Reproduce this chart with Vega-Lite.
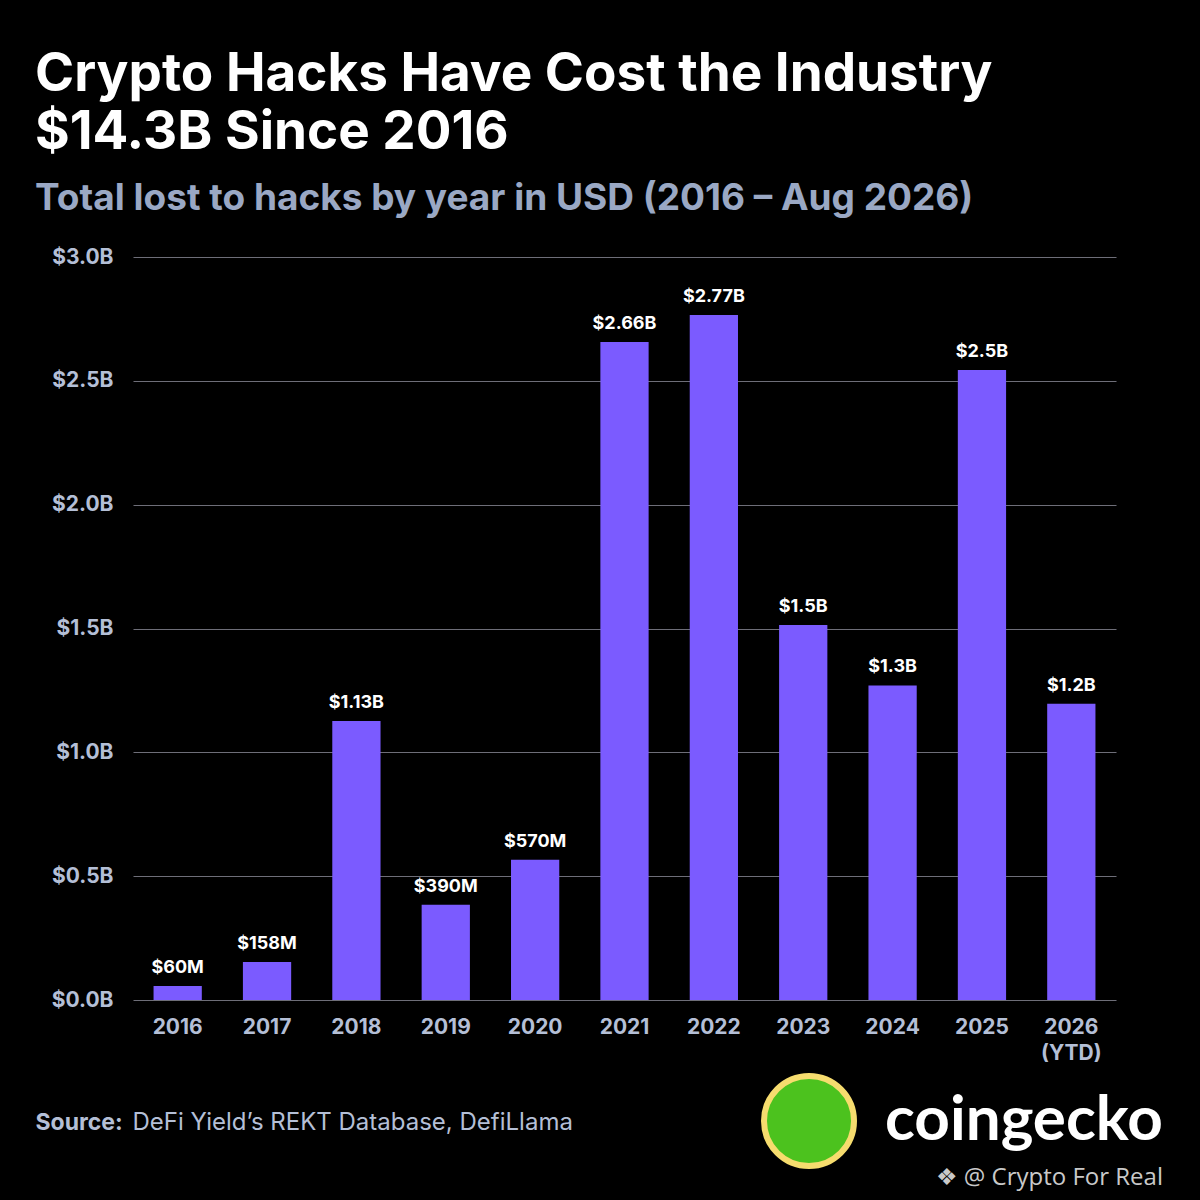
{
  "$schema": "https://vega.github.io/schema/vega-lite/v6.json",
  "description": "Crypto hacks: total lost by year in USD",
  "width": 983,
  "height": 743,
  "autosize": {"type": "none"},
  "padding": {"left": 133, "top": 257, "right": 84, "bottom": 200},
  "background": "#000000",
  "title": {
    "text": ["Crypto Hacks Have Cost the Industry", "$14.3B Since 2016"],
    "subtitle": "Total lost to hacks by year in USD (2016 – Aug 2026)",
    "anchor": "start",
    "frame": "group",
    "dx": -98,
    "offset": 29,
    "font": "Inter",
    "fontSize": 53,
    "fontWeight": "bold",
    "color": "#ffffff",
    "lineHeight": 58,
    "subtitleFont": "Inter",
    "subtitleFontSize": 37,
    "subtitleFontWeight": "bold",
    "subtitleColor": "#9aa8c4",
    "subtitlePadding": 21
  },
  "data": {
    "values": [
      {"year": "2016", "value": 0.057, "label": "$60M"},
      {"year": "2017", "value": 0.153, "label": "$158M"},
      {"year": "2018", "value": 1.127, "label": "$1.13B"},
      {"year": "2019", "value": 0.385, "label": "$390M"},
      {"year": "2020", "value": 0.566, "label": "$570M"},
      {"year": "2021", "value": 2.657, "label": "$2.66B"},
      {"year": "2022", "value": 2.766, "label": "$2.77B"},
      {"year": "2023", "value": 1.514, "label": "$1.5B"},
      {"year": "2024", "value": 1.27, "label": "$1.3B"},
      {"year": "2025", "value": 2.544, "label": "$2.5B"},
      {"year": "2026", "value": 1.196, "label": "$1.2B"}
    ]
  },
  "encoding": {
    "x": {
      "field": "year",
      "type": "nominal",
      "sort": null,
      "scale": {"paddingInner": 0.46, "paddingOuter": 0.23},
      "axis": {
        "title": "DeFi Yield’s REKT Database, DefiLlama",
        "titleX": -1,
        "titleY": 129,
        "titleAlign": "left",
        "titleBaseline": "alphabetic",
        "titleFont": "Inter",
        "titleFontSize": 24,
        "titleFontWeight": "normal",
        "titleColor": "#b4bfd6",
        "labelExpr": "datum.value == '2026' ? ['2026', '(YTD)'] : datum.label",
        "labelAngle": 0,
        "labelPadding": 16,
        "labelLineHeight": 26,
        "labelFont": "Inter",
        "labelFontSize": 21,
        "labelFontWeight": "bold",
        "labelColor": "#b4bfd6",
        "ticks": false,
        "domain": false
      }
    },
    "y": {
      "field": "value",
      "type": "quantitative",
      "scale": {"domain": [0, 3]},
      "axis": {
        "values": [0, 0.5, 1, 1.5, 2, 2.5, 3],
        "labelExpr": "'$' + format(datum.value, '.1f') + 'B'",
        "labelFont": "Inter",
        "labelFontSize": 21,
        "labelFontWeight": "bold",
        "labelColor": "#b4bfd6",
        "labelPadding": 20,
        "ticks": false,
        "domain": false,
        "grid": true,
        "gridColor": "#6e6e78",
        "gridWidth": 1,
        "title": "Source:",
        "titleAngle": 0,
        "titleX": -98,
        "titleY": 872,
        "titleAlign": "left",
        "titleBaseline": "alphabetic",
        "titleFont": "Inter",
        "titleFontSize": 23,
        "titleFontWeight": "bold",
        "titleColor": "#b4bfd6"
      }
    }
  },
  "layer": [
    {
      "mark": {"type": "bar", "strokeOpacity": 0},
      "encoding": {
        "fill": {
          "field": "year",
          "type": "nominal",
          "scale": {"range": ["#7b5bff"]},
          "legend": null
        },
        "stroke": {
          "datum": "coingecko",
          "type": "nominal",
          "scale": {"domain": ["coingecko"], "range": ["#f6dc6e"]},
          "legend": {
            "orient": "none",
            "legendX": 628,
            "legendY": 816,
            "title": "❖ @ Crypto For Real",
            "titleOrient": "bottom",
            "titleAnchor": "end",
            "titlePadding": -12,
            "titleFont": "Open Sans",
            "titleFontSize": 24,
            "titleFontWeight": "normal",
            "titleColor": "#c9c9c9",
            "titleLimit": 400,
            "symbolType": "circle",
            "symbolSize": 8100,
            "symbolStrokeWidth": 6,
            "symbolFillColor": "#4cc21e",
            "symbolOpacity": 1,
            "labelFont": "Lato",
            "labelFontSize": 62,
            "labelFontWeight": "bold",
            "labelColor": "#ffffff",
            "labelOffset": 28,
            "labelLimit": 500,
            "encode": {
              "symbols": {
                "update": {
                  "strokeOpacity": {"value": 1},
                  "strokeWidth": {"value": 6}
                }
              }
            }
          }
        }
      }
    },
    {
      "mark": {
        "type": "text",
        "baseline": "bottom",
        "dy": -9,
        "font": "Inter",
        "fontSize": 18,
        "fontWeight": "bold",
        "color": "#ffffff"
      },
      "encoding": {"text": {"field": "label"}}
    }
  ],
  "config": {
    "view": {"stroke": null}
  }
}
